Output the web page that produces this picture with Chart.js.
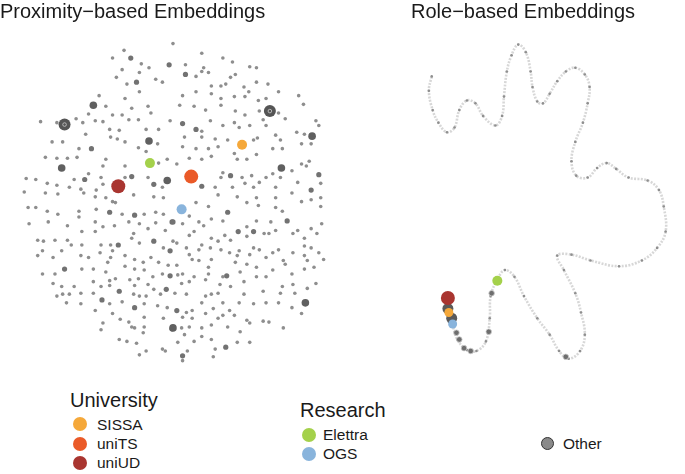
<!DOCTYPE html>
<html>
<head>
    <title>Embeddings</title>
    <script src="https://cdn.jsdelivr.net/npm/chart.js"></script>
    <style>
        body { margin: 0; background: #fff; font-family: "Liberation Sans", Arial, sans-serif; color: #1a1a1a; }
        #wrap { position: relative; width: 685px; height: 474px; overflow: hidden; }
        canvas { position: absolute; top: 0; }
        .title { position: absolute; top: 1px; font-size: 20px; line-height: 20px; white-space: nowrap; }
        .lgTitle { position: absolute; font-size: 20px; line-height: 20px; white-space: nowrap; }
        .item { position: absolute; height: 16px; display: flex; align-items: center; font-size: 15.5px; white-space: nowrap; }
        .dot { position: absolute; width: 14px; height: 14px; border-radius: 50%; }
    </style>
</head>
<body>
<div id="wrap">
    <canvas id="prox" width="345" height="385" style="left:0"></canvas>
    <canvas id="role" width="285" height="385" style="left:400px"></canvas>

    <div class="title" style="left:0">Proximity−based Embeddings</div>
    <div class="title" style="left:411px">Role−based Embeddings</div>

    <div class="lgTitle" style="left:70px; top:390px">University</div>
    <div class="dot" style="left:73px; top:417px; background:#F5A83A"></div>
    <div class="item" style="left:97px; top:417px">SISSA</div>
    <div class="dot" style="left:73px; top:437px; background:#EA5A28"></div>
    <div class="item" style="left:97px; top:436px">uniTS</div>
    <div class="dot" style="left:73px; top:456px; background:#A93530"></div>
    <div class="item" style="left:97px; top:455px">uniUD</div>

    <div class="lgTitle" style="left:300px; top:400px">Research</div>
    <div class="dot" style="left:302px; top:428px; background:#A4D14B"></div>
    <div class="item" style="left:323px; top:427px">Elettra</div>
    <div class="dot" style="left:302px; top:447px; background:#89B4DC"></div>
    <div class="item" style="left:323px; top:446px">OGS</div>

    <div class="dot" style="left:541px; top:437px; width:11px; height:11px; background:#8a8a8a; border:1.5px solid #333"></div>
    <div class="item" style="left:563px; top:436px">Other</div>
</div>

<script>
    // proximity embedding (left panel)
    const proxSmall = [
        [122,45],[110,53],[120,65],[140,59],[148,63],[114,73],[125,80],[138,68],[155,75],[162,78],[138,88],[96,92],[123,95],[85,111],[103,103],[110,112],[120,112],[130,105],[147,103],[150,110],[35,119],[52,120],[72,116],[79,120],[92,118],[100,119],[127,117],[137,117],[107,127],[117,128],[145,127],[158,127],[170,118],[82,132],[108,135],[115,137],[123,140],[157,142],[75,147],[58,140],[47,140],[40,156],[52,157],[63,157],[73,156],[103,158],[100,165],[123,165],[137,146],[145,150],[158,162],[167,158],[123,177],[147,177],[162,187],[70,179],[85,173],[98,177],[30,179],[20,178],[42,183],[52,185],[65,187],[77,189],[93,190],[100,184],[18,192],[40,193],[53,194],[80,193],[92,197],[110,202],[132,195],[153,197],[163,198],[103,198],[173,38],
        [203,48],[225,53],[235,57],[253,62],[260,63],[186,60],[205,63],[210,68],[197,72],[203,67],[213,82],[223,82],[228,80],[233,73],[238,70],[247,83],[260,78],[272,80],[283,88],[252,88],[183,92],[197,88],[213,90],[223,95],[237,93],[248,93],[262,97],[270,95],[304,92],[309,101],[180,102],[195,103],[207,107],[223,102],[238,108],[248,112],[263,108],[267,117],[290,116],[283,110],[203,129],[212,118],[225,123],[237,120],[242,125],[253,123],[270,123],[310,132],[322,118],[325,123],[302,130],[307,142],[317,142],[280,133],[285,138],[261,136],[257,138],[230,138],[217,137],[203,135],[185,135],[183,145],[197,147],[210,147],[220,145],[237,152],[250,158],[240,158],[277,147],[287,147],[260,153],[190,157],[203,158],[213,155],[177,163],[225,172],[223,177],[245,177],[255,175],[263,182],[270,177],[277,173],[285,177],[297,170],[307,163],[312,165],[315,160],[327,183],[303,182],[297,193],[280,187],[257,187],[248,183],[235,187],[217,187],[220,195],[240,197],[260,198],[280,198],[317,200],[327,198],
        [30,208],[22,208],[42,212],[53,215],[75,212],[75,218],[113,203],[93,210],[120,215],[127,223],[143,215],[155,213],[163,215],[23,225],[43,223],[63,227],[92,223],[100,228],[92,233],[78,233],[112,227],[138,225],[147,230],[155,224],[165,232],[132,235],[32,242],[38,243],[50,242],[63,242],[67,247],[78,247],[98,247],[108,247],[130,240],[138,245],[163,250],[37,253],[32,258],[48,260],[57,253],[77,258],[85,260],[97,255],[110,253],[108,260],[105,265],[123,258],[133,262],[142,265],[150,260],[158,265],[168,268],[50,277],[37,277],[78,272],[90,272],[103,275],[123,269],[133,272],[143,273],[152,280],[162,277],[128,283],[137,282],[113,282],[107,284],[90,285],[48,287],[57,290],[70,290],[98,290],[107,289],[90,297],[58,298],[65,298],[77,297],[133,289],[147,288],[153,293],[160,298],[132,298],[138,300],[145,300],[52,300],[62,307],[77,308],[92,315],[107,308],[120,306],[143,308],[157,310],[167,312],[110,318],[118,324],[127,327],[130,332],[143,322],[143,332],[133,333],[163,323],[100,328],[98,335],[142,338],[117,345],[125,347],[135,349],[162,355],[165,357],[145,357],[138,361],
        [197,203],[210,207],[250,203],[262,206],[280,208],[287,212],[307,202],[327,207],[183,225],[190,217],[205,227],[200,223],[213,220],[225,222],[250,228],[260,222],[275,223],[268,235],[273,235],[280,232],[298,235],[303,232],[310,240],[317,230],[323,235],[328,225],[190,237],[195,233],[213,240],[220,243],[227,237],[233,242],[250,238],[173,243],[177,245],[203,247],[187,250],[200,252],[212,250],[223,252],[232,255],[242,253],[257,250],[263,252],[283,252],[277,255],[298,255],[310,248],[317,250],[325,255],[190,257],[193,262],[200,263],[213,262],[240,258],[253,257],[270,260],[288,263],[310,258],[313,263],[330,262],[177,268],[210,270],[238,265],[250,267],[260,270],[277,273],[290,267],[297,277],[310,272],[320,270],[178,278],[183,277],[195,280],[210,277],[225,280],[243,275],[260,280],[270,280],[287,290],[182,287],[190,285],[207,283],[222,288],[233,290],[247,285],[298,288],[313,292],[322,287],[175,297],[187,298],[207,300],[213,298],[220,297],[247,298],[267,295],[285,297],[300,297],[187,317],[193,315],[203,307],[215,313],[225,307],[232,315],[242,307],[257,308],[270,307],[283,307],[297,312],[307,318],[183,322],[193,323],[207,318],[220,323],[225,320],[237,320],[250,325],[267,326],[182,333],[190,332],[203,333],[213,330],[230,332],[243,337],[253,328],[273,327],[288,333],[178,348],[185,340],[195,347],[203,342],[213,345],[240,348],[253,348],[217,355],[188,357],[183,367],[215,363]
    ];
    const proxMid = [
        [129,53],[169,60],[135,78],[88,147],[130,176],[153,184],[81,179],[186,70],[183,121],[197,127],[203,186],[233,175],[325,174],[317,190],[107,213],[133,216],[172,223],[116,247],[153,243],[170,253],[60,272],[170,279],[117,295],[166,293],[99,304],[133,312],[172,334],[230,213],[173,223],[241,233],[257,233],[292,222],[229,279],[177,315],[228,353],[183,362]
    ];
    const proxHubs = [[57,167],[311,307],[90,102],[318,134],[148,139],[167,180],[286,167],[173,333]];
    const proxBig = [[60,122],[274,108]];
    const proxSISSA = [[245,143]];
    const proxUniTS = [[192,176]];
    const proxUniUD = [[116,186]];
    const proxElettra = [[149,162]];
    const proxOGS = [[182,210]];

    // role embedding (right panel)
    const rolePath = [
        [426,72],[423,87],[427,107],[433,120],[442,130],[450,125],[455,107],[463,97],[472,100],[480,113],[493,123],[500,113],[502,93],[505,67],[510,50],[517,39],[525,47],[530,67],[532,83],[537,98],[543,100],[550,90],[558,77],[567,67],[577,63],[587,70],[592,83],[590,100],[585,120],[577,140],[573,160],[578,175],[590,177],[600,167],[610,162],[620,168],[633,177],[653,180],[665,190],[670,207],[672,233],[663,250],[647,263],[623,269],[593,263],[573,257],[558,258],[565,273],[577,297],[583,317],[587,340],[582,357],[570,365],[560,357],[550,340],[537,323],[523,300],[513,280],[503,273],[495,283],[488,300],[487,323],[483,347],[473,357],[463,356],[453,345],[448,330],[445,317],[442,302]
    ];
    const roleRings = [[452,338],[455,345],[460,354],[467,357],[486,337],[489,297],[567,363]];
    const roleHubs = [[443,313],[447,323]];
    const roleSISSA = [[444,317]];
    const roleUniUD = [[443,302]];
    const roleElettra = [[495,284]];
    const roleOGS = [[448,329]];

    const COL = { SISSA: "#F5A83A", uniTS: "#EA5A28", uniUD: "#A93530", Elettra: "#A4D14B", OGS: "#89B4DC" };

    function pts(arr) { return arr.map(p => ({ x: p[0], y: p[1] })); }

    function ds(arr, r, fill, extra) {
        return Object.assign({
            data: pts(arr),
            pointRadius: r,
            pointBackgroundColor: fill,
            pointBorderWidth: 0,
            pointHoverRadius: r
        }, extra || {});
    }

    function opts(xmin, xmax, ymax) {
        return {
            responsive: false,
            animation: false,
            events: [],
            layout: { padding: 0 },
            plugins: { legend: { display: false }, tooltip: { enabled: false } },
            scales: {
                x: { type: "linear", min: xmin, max: xmax, display: false },
                y: { type: "linear", min: 0, max: ymax, reverse: true, display: false }
            }
        };
    }

    // first dataset is drawn on top
    new Chart(document.getElementById("prox"), {
        type: "scatter",
        data: {
            datasets: [
                ds(proxUniTS, 7, COL.uniTS),
                ds(proxUniUD, 7, COL.uniUD),
                ds(proxSISSA, 5, COL.SISSA),
                ds(proxElettra, 5, COL.Elettra),
                ds(proxOGS, 5, COL.OGS),
                ds(proxBig, 1.8, "rgba(0,0,0,0)", { pointBorderWidth: 1, pointBorderColor: "#b8b8b8" }),
                ds(proxBig, 6, "#555555"),
                ds(proxHubs, 3.8, "#606060"),
                ds(proxMid, 2.6, "#727272"),
                ds(proxSmall, 1.8, "rgba(122,122,122,0.85)")
            ]
        },
        options: Object.assign(opts(0, 345, 385), { clip: false })
    });

    new Chart(document.getElementById("role"), {
        type: "scatter",
        data: {
            datasets: [
                ds(roleOGS, 4.5, COL.OGS),
                ds(roleSISSA, 4.5, COL.SISSA),
                ds(roleUniUD, 7, COL.uniUD),
                ds(roleElettra, 5, COL.Elettra),
                ds(roleHubs, 5.5, "#5a5a5a"),
                ds(roleRings, 2.8, "#6e6e6e", { pointBorderWidth: 0.8, pointBorderColor: "#d0d0d0" }),
                ds(rolePath, 1.3, "#8f8f8f", {
                    showLine: true,
                    tension: 0.4,
                    borderColor: "rgba(160,160,160,0.42)",
                    borderWidth: 2.6,
                    borderDash: [2, 1.4]
                })
            ]
        },
        options: Object.assign(opts(400, 685, 385), { clip: false })
    });
</script>
</body>
</html>
